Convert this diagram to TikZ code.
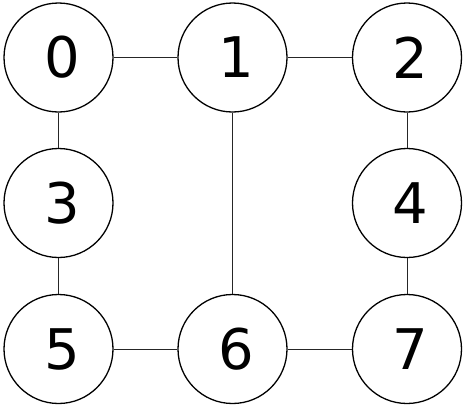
\documentclass[tikz,border=0pt]{standalone}
\usepackage{fontspec}
\setmainfont{DejaVu Sans}
\newcommand{\digitshift}[1]{\hspace*{7pt}#1}
\begin{document}
\begin{tikzpicture}[x=1pt,y=-1pt,
  vertex/.style={circle,draw=black,line width=1.3pt,fill=white,minimum size=109pt,inner sep=0pt,font=\fontsize{56}{60}\selectfont},
  edge/.style={draw=black!85,line width=1pt}]
\useasboundingbox (0,0) rectangle (474,410);
\node[vertex] (n0) at (58.5,57.5) {\digitshift{0}};
\node[vertex] (n1) at (232.5,57.5) {\digitshift{1}};
\node[vertex] (n2) at (407,57.5) {\digitshift{2}};
\node[vertex] (n3) at (58.5,203) {\digitshift{3}};
\node[vertex] (n4) at (407,203) {\digitshift{4}};
\node[vertex] (n5) at (58.5,349) {\digitshift{5}};
\node[vertex] (n6) at (232.5,349) {\digitshift{6}};
\node[vertex] (n7) at (407,349) {\digitshift{7}};
\draw[edge] (n0) -- (n1);
\draw[edge] (n1) -- (n2);
\draw[edge] (n0) -- (n3);
\draw[edge] (n3) -- (n5);
\draw[edge] (n2) -- (n4);
\draw[edge] (n4) -- (n7);
\draw[edge] (n1) -- (n6);
\draw[edge] (n5) -- (n6);
\draw[edge] (n6) -- (n7);
\end{tikzpicture}
\end{document}
